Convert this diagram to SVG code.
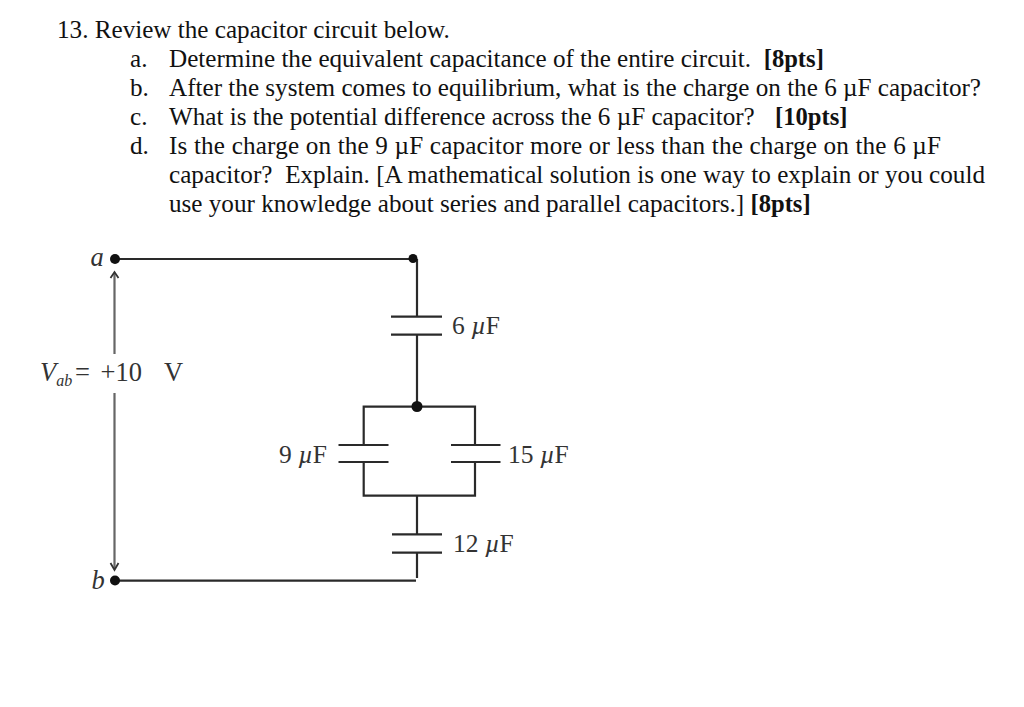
<svg xmlns="http://www.w3.org/2000/svg" width="1024" height="707" viewBox="0 0 1024 707">
<style>
text{font-family:"Liberation Serif","Times New Roman",serif;fill:#111;white-space:pre}
.q{font-size:25.15px}
.b{font-weight:bold;font-size:24.6px}
.l{font-size:25.5px;fill:#333}
.m{font-size:26.5px;fill:#333}
.s{font-size:16px}
.i{font-style:italic}
.w{fill:none;stroke:#2a2a2a;stroke-width:2.2}
.g{fill:none;stroke:#666;stroke-width:2.2}
.h{fill:none;stroke:#333;stroke-width:1.8}
.d{fill:#111}
</style>
<rect width="1024" height="707" fill="#fff"/>
<g id="question">
<text class="q" x="57" y="38">13. Review the capacitor circuit below.</text>
<text class="q" x="130" y="67">a.</text>
<text class="q" x="169" y="67">Determine the equivalent capacitance of the entire circuit.  <tspan class="b">[8pts]</tspan></text>
<text class="q" x="130" y="96">b.</text>
<text class="q" x="169" y="96">After the system comes to equilibrium, what is the charge on the 6 µF capacitor?</text>
<text class="q" x="130" y="125">c.</text>
<text class="q" x="169" y="125">What is the potential difference across the 6 µF capacitor?  <tspan class="b" x="775">[10pts]</tspan></text>
<text class="q" x="130" y="154">d.</text>
<text class="q" x="169" y="154" textLength="772">Is the charge on the 9 µF capacitor more or less than the charge on the 6 µF</text>
<text class="q" x="169" y="183" textLength="816">capacitor?  Explain. [A mathematical solution is one way to explain or you could</text>
<text class="q" x="169" y="212">use your knowledge about series and parallel capacitors.] <tspan class="b">[8pts]</tspan></text>
</g>
<g id="connectors">
<path class="w" d="M115 259H413M417 259V316.7M417 334.7V406M363.7 462V495.7H475V462M363.7 445V406.7H475V445M417 495.7V534.3M417 552.7V578M115 580.7H416"/>
<path class="g" d="M114.5 273V354M114.5 393V568"/>
<path class="h" d="M110.5 278L114.5 272L118.5 278M110.5 563L114.5 570L118.5 563"/>
</g>
<g id="terminal-a"><circle class="d" cx="115" cy="259" r="5"/><text class="m i" x="90.500" y="266">a</text></g>
<g id="terminal-b"><circle class="d" cx="115" cy="580.500" r="5"/><text class="m i" x="91.500" y="589">b</text></g>
<g id="junction-top"><circle class="d" cx="413" cy="258.500" r="4.500"/></g>
<g id="junction-mid"><circle class="d" cx="417" cy="406.500" r="5.500"/></g>
<g id="cap-6"><path class="w" d="M391 316.700H442M391 334.700H442"/><text class="l" x="452" y="334">6 <tspan class="i">µ</tspan>F</text></g>
<g id="cap-9"><path class="w" d="M338.500 445H388.500M338.500 462H388.500"/><text class="l" x="279" y="463">9 <tspan class="i">µ</tspan>F</text></g>
<g id="cap-15"><path class="w" d="M451 445H500.500M451 462H500.500"/><text class="l" x="508" y="463">15 <tspan class="i">µ</tspan>F</text></g>
<g id="cap-12"><path class="w" d="M392 534.300H442M392 552.700H442"/><text class="l" x="453" y="552">12 <tspan class="i">µ</tspan>F</text></g>
<g id="voltage-label"><text class="m" x="40" y="381"><tspan class="i">V</tspan><tspan class="i s" dy="5">ab</tspan><tspan x="75" dy="-5">=</tspan><tspan x="100.500">+10</tspan><tspan x="164">V</tspan></text></g>
</svg>
